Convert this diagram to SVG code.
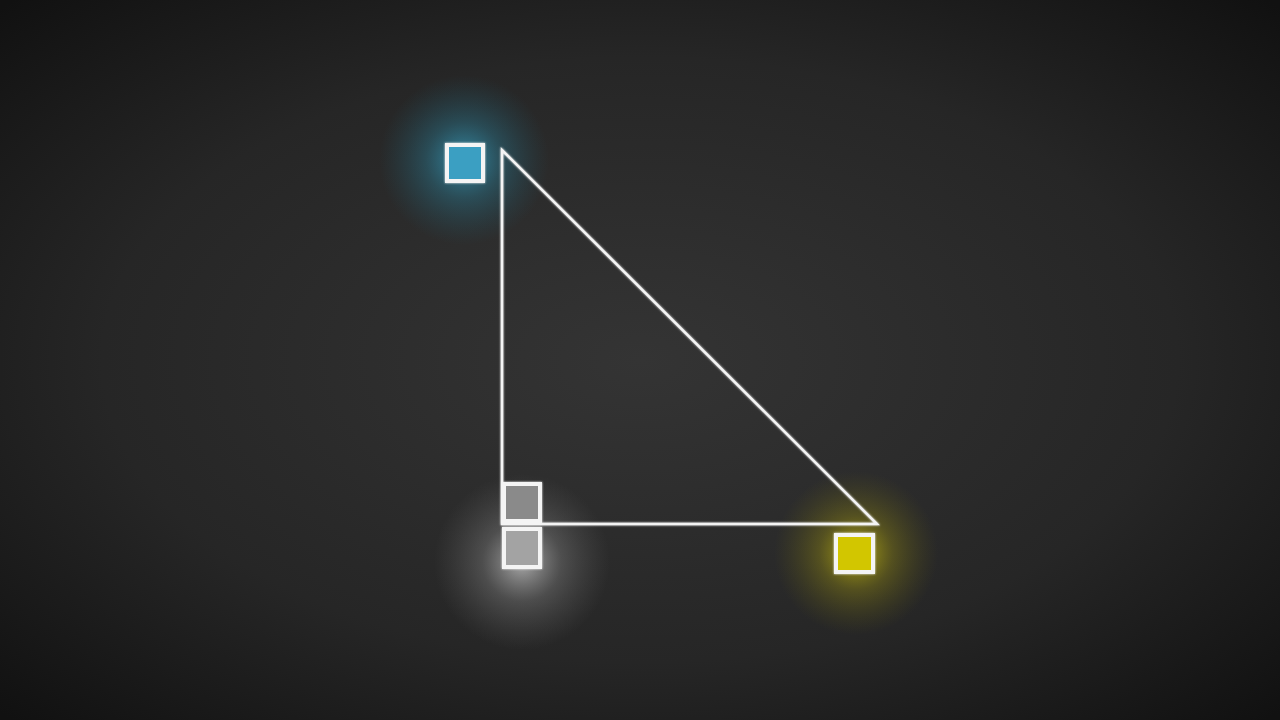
<svg xmlns="http://www.w3.org/2000/svg" width="1280" height="720" viewBox="0 0 1280 720">
<defs>
<radialGradient id="bg" cx="50%" cy="50%" r="70%">
<stop offset="0" stop-color="#343434"/>
<stop offset="0.6" stop-color="#262626"/>
<stop offset="1" stop-color="#111111"/>
</radialGradient>
<radialGradient id="gBlue">
<stop offset="0" stop-color="#3aa6c8" stop-opacity="0.8"/>
<stop offset="0.45" stop-color="#2a7f99" stop-opacity="0.4"/>
<stop offset="1" stop-color="#1f5f73" stop-opacity="0"/>
</radialGradient>
<radialGradient id="gWhite">
<stop offset="0" stop-color="#d8d8d8" stop-opacity="0.75"/>
<stop offset="0.45" stop-color="#9a9a9a" stop-opacity="0.32"/>
<stop offset="1" stop-color="#777777" stop-opacity="0"/>
</radialGradient>
<radialGradient id="gYellow">
<stop offset="0" stop-color="#d8cc10" stop-opacity="0.8"/>
<stop offset="0.45" stop-color="#9a9010" stop-opacity="0.38"/>
<stop offset="1" stop-color="#6a6410" stop-opacity="0"/>
</radialGradient>
<filter id="soft" x="-50%" y="-50%" width="200%" height="200%">
<feGaussianBlur stdDeviation="1.2" result="b"/>
<feMerge><feMergeNode in="b"/><feMergeNode in="SourceGraphic"/></feMerge>
</filter>
</defs>
<style>
.sq{stroke:#f4f4f4;stroke-width:4}
.edge{fill:none;stroke:#f4f4f4;stroke-width:2.5;stroke-linejoin:miter}
</style>
<rect width="1280" height="720" fill="url(#bg)"/>
<circle cx="464" cy="160" r="85" fill="url(#gBlue)"/>
<circle cx="522" cy="562" r="88" fill="url(#gWhite)"/>
<circle cx="856" cy="553" r="82" fill="url(#gYellow)"/>
<g id="connectors" filter="url(#soft)">
<polygon class="edge" points="502,150 502,524 877,524"/>
</g>
<g id="node-blue" filter="url(#soft)">
<rect class="sq" x="447" y="145" width="36" height="36" fill="#3b9fc2"/>
</g>
<g id="node-gray-top" filter="url(#soft)">
<rect class="sq" x="504" y="484" width="36" height="37" fill="#8a8a8a"/>
</g>
<g id="node-gray-bottom" filter="url(#soft)">
<rect class="sq" x="504" y="529" width="36" height="38" fill="#a3a3a3"/>
</g>
<g id="node-yellow" filter="url(#soft)">
<rect class="sq" x="836" y="535" width="37" height="37" fill="#d2c600"/>
</g>
</svg>
